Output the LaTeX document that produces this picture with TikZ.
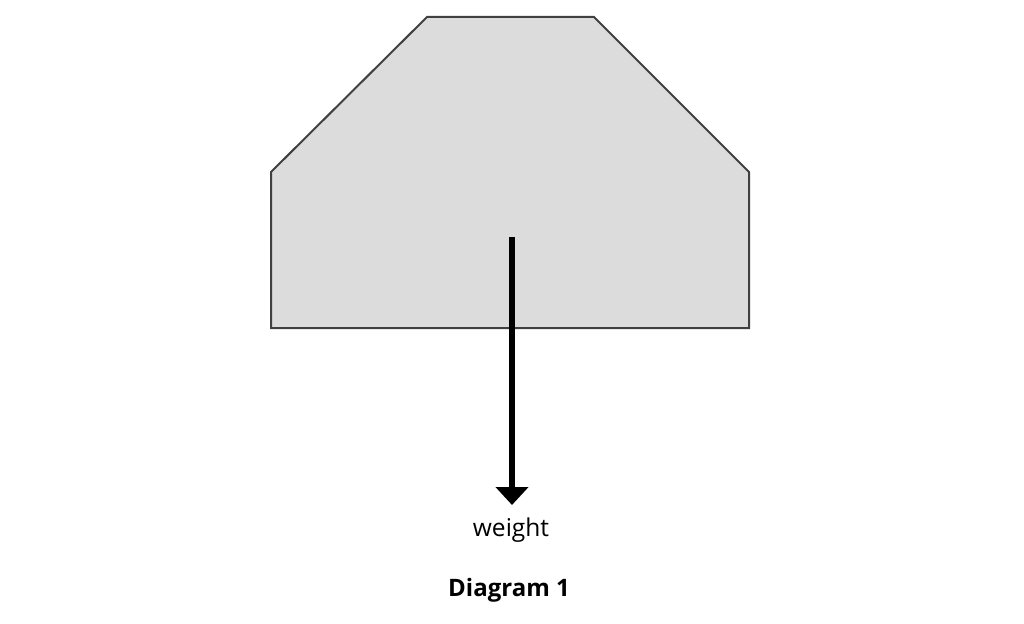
\documentclass[tikz,border=0pt]{standalone}
\usepackage{fontspec}
\setmainfont{Open Sans}
\usetikzlibrary{arrows.meta}
\definecolor{bodyfill}{HTML}{DCDCDC}
\definecolor{bodyline}{HTML}{404040}
\tikzset{
  bodyshape/.style={fill=bodyfill, draw=bodyline, line width=1.5pt, line join=miter},
  weightarrow/.style={line width=4.5pt, -{Triangle[length=13.5pt,width=24pt]}},
  labeltext/.style={font=\fontsize{18.4}{20}\selectfont, inner sep=0pt}
}
\begin{document}
\begin{tikzpicture}[x=0.75pt, y=-0.75pt]

    % 画布范围
    \useasboundingbox (0,0) rectangle (1024,624);

    % 物体轮廓
    \draw[bodyshape] (427,17) -- (594,17) -- (749,172) -- (749,328)
        -- (271,328) -- (271,172) -- cycle;

    % 重心与箭头端点
    \coordinate (cg) at (512,237);
    \coordinate (tip) at (512,505);

    % 重力箭头
    \draw[weightarrow] (cg) -- (tip);

    % 标签
    \node[labeltext] (weight) at (511,530) {weight};
    \node[labeltext, font=\fontsize{18}{20}\selectfont\bfseries] (caption) at (509,590) {Diagram 1};

\end{tikzpicture}
\end{document}
